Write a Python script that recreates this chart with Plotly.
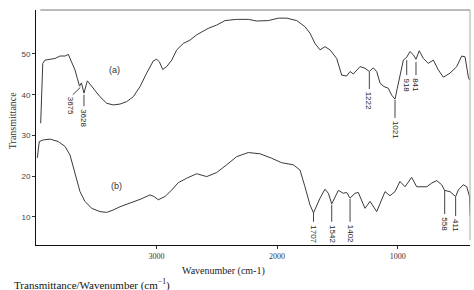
import plotly.graph_objects as go

# Spectrum (a): wavenumber (cm-1) and transmittance
wn_a = [3961, 3944, 3925, 3884, 3842, 3801, 3759, 3732, 3704, 3677, 3657, 3639, 3623, 3602,
        3574, 3527, 3469, 3414, 3359, 3303, 3248, 3193, 3137, 3082, 3027, 2999, 2977, 2949,
        2916, 2874, 2833, 2778, 2723, 2667, 2571, 2501, 2432, 2335, 2239, 2169, 2073, 1990,
        1920, 1837, 1769, 1727, 1686, 1644, 1603, 1561, 1506, 1464, 1423, 1395, 1368, 1312,
        1271, 1235, 1202, 1174, 1146, 1113, 1078, 1050, 1022, 1003, 981, 953, 925, 898, 870,
        848, 821, 787, 746, 704, 663, 621, 566, 510, 469, 441, 414, 404]
t_a = [33.0, 47.7, 48.5, 48.7, 48.9, 49.5, 49.5, 49.9, 48.1, 46.1, 44.0, 42.1, 42.9, 40.4,
       43.4, 41.7, 39.5, 37.9, 37.5, 37.7, 38.3, 39.5, 42.0, 45.3, 48.3, 48.7, 48.1, 46.2,
       46.9, 48.5, 51.0, 52.6, 53.4, 54.7, 56.3, 57.1, 58.2, 58.5, 58.5, 58.1, 58.2, 58.8,
       58.8, 58.2, 56.7, 55.1, 52.6, 51.0, 51.8, 51.0, 48.9, 44.8, 44.6, 45.7, 45.1, 46.9,
       46.5, 45.7, 46.6, 45.7, 42.8, 42.0, 41.6, 39.9, 38.9, 41.6, 44.9, 48.5, 49.2, 50.6, 49.8,
       48.7, 50.8, 48.9, 47.7, 48.5, 46.1, 44.3, 45.3, 46.9, 49.5, 49.3, 44.4, 43.6]

# Spectrum (b)
wn_b = [3989, 3973, 3939, 3884, 3815, 3759, 3718, 3691, 3662, 3635, 3594, 3538, 3469, 3414,
        3359, 3303, 3220, 3137, 3054, 3021, 2986, 2930, 2874, 2820, 2750, 2667, 2584, 2501,
        2418, 2335, 2239, 2142, 2045, 1962, 1866, 1810, 1769, 1727, 1698, 1672, 1644, 1603,
        1575, 1547, 1520, 1492, 1451, 1423, 1395, 1354, 1327, 1271, 1229, 1174, 1105, 1064,
        1022, 981, 939, 884, 842, 801, 759, 718, 676, 635, 610, 566, 519, 497, 456, 427, 404, 398]
t_b = [24.5, 28.5, 28.9, 29.1, 28.5, 27.3, 25.2, 22.3, 19.1, 16.2, 13.8, 12.1, 11.3, 11.1,
       11.7, 12.5, 13.4, 14.3, 15.4, 15.0, 14.2, 15.0, 16.6, 18.4, 19.5, 20.6, 19.9, 20.9,
       22.8, 24.8, 25.8, 25.5, 24.4, 23.3, 22.8, 21.5, 17.4, 12.9, 11.0, 12.9, 14.6, 16.8,
       15.8, 13.2, 15.0, 16.5, 15.8, 16.0, 14.6, 15.8, 16.0, 12.1, 13.8, 11.3, 16.2, 15.2,
       16.2, 18.7, 17.4, 19.7, 17.4, 17.4, 17.4, 18.3, 18.9, 17.9, 16.5, 16.2, 15.0, 16.6,
       17.9, 17.4, 15.0, 10.1]

# Peak labels (label text, drawn position, line start, line end/text top)
peaks_a_lbl = ["3628", "1222", "1021", "918", "841"]
peaks_a_wn = [3602, 1235, 1022, 925, 848]
peaks_a_y0 = [40.0, 45.6, 38.7, 48.5, 48.0]
peaks_a_y1 = [37.2, 41.4, 34.3, 44.8, 44.8]

peaks_b_lbl = ["1707", "1542", "1402", "558", "411"]
peaks_b_wn = [1698, 1547, 1395, 610, 519]
peaks_b_y0 = [11.0, 13.0, 14.4, 16.6, 14.9]
peaks_b_y1 = [8.8, 8.8, 8.8, 10.7, 10.2]

x_ticks = [3000, 2000, 1000]
y_ticks = [10, 20, 30, 40, 50]

line_col = "#3a3a3a"
fig = go.Figure()
fig.add_trace(go.Scatter(x=wn_a, y=t_a, mode="lines", line=dict(color=line_col, width=1), showlegend=False))
fig.add_trace(go.Scatter(x=wn_b, y=t_b, mode="lines", line=dict(color=line_col, width=1), showlegend=False))

lbl_font = dict(family="Liberation Sans, Arial", size=8, color="#222")

def add_peaks(lbls, wns, y0s, y1s):
    for lb, w, a, b in zip(lbls, wns, y0s, y1s):
        fig.add_shape(type="line", x0=w, x1=w, y0=a, y1=b, xref="x", yref="y",
                      line=dict(color="#444", width=1))
        fig.add_annotation(x=w, y=b, text=lb, textangle=90, showarrow=False,
                           xanchor="center", yanchor="top", font=lbl_font, yshift=-1)

add_peaks(peaks_a_lbl, peaks_a_wn, peaks_a_y0, peaks_a_y1)
add_peaks(peaks_b_lbl, peaks_b_wn, peaks_b_y0, peaks_b_y1)

# 3675 label with slanted leader
fig.add_shape(type="line", x0=3632, x1=3695, y0=41.8, y1=40.0, xref="x", yref="y",
              line=dict(color="#444", width=1))
fig.add_annotation(x=3718, y=40.0, text="3675", textangle=90, showarrow=False,
                   xanchor="center", yanchor="top", font=lbl_font)

fig.add_annotation(x=3345, y=46.0, text="(a)", showarrow=False,
                   font=dict(family="Liberation Sans, Arial", size=9, color="#333"))
fig.add_annotation(x=3331, y=17.6, text="(b)", showarrow=False,
                   font=dict(family="Liberation Sans, Arial", size=9, color="#333"))

serif = "Liberation Serif, Times New Roman, serif"
fig.add_annotation(xref="paper", yref="paper", x=0.431, y=0, yshift=-26, text="Wavenumber (cm-1)",
                   showarrow=False, xanchor="center", yanchor="middle",
                   font=dict(family=serif, size=10, color="#222"))
fig.add_annotation(xref="paper", yref="paper", x=-0.055, y=0, yshift=-39,
                   text="Transmittance/Wavenumber (cm<sup>−1</sup>)",
                   showarrow=False, xanchor="left", yanchor="middle",
                   font=dict(family=serif, size=11, color="#111"))
fig.add_annotation(xref="paper", yref="paper", x=0, xshift=-24, y=0.527, text="Transmittance",
                   textangle=-90, showarrow=False, xanchor="center", yanchor="middle",
                   font=dict(family=serif, size=10, color="#333"))

# frame: top and right in grey
fig.add_shape(type="line", xref="paper", yref="paper", x0=0.01, x1=1, y0=1, y1=1,
              line=dict(color="#777", width=1))
fig.add_shape(type="line", xref="paper", yref="paper", x0=1, x1=1, y0=0.02, y1=1,
              line=dict(color="#aaa", width=1))

fig.update_layout(
    width=474, height=290,
    margin=dict(l=36, r=4, t=10, b=45),
    paper_bgcolor="white", plot_bgcolor="white",
    xaxis=dict(range=[4000, 400], tickvals=x_ticks, ticks="outside", ticklen=3,
               showgrid=False, zeroline=False, showline=True, linecolor="#111", linewidth=1,
               tickfont=dict(family=serif, size=8, color="#333"), tickcolor="#333"),
    yaxis=dict(range=[3.1, 60.8], tickvals=y_ticks, ticks="outside", ticklen=3,
               showgrid=False, zeroline=False, showline=True, linecolor="#111", linewidth=1,
               tickfont=dict(family="Liberation Sans, Arial", size=8, color="#444"), tickcolor="#333"),
)
fig.write_html("out.html")
